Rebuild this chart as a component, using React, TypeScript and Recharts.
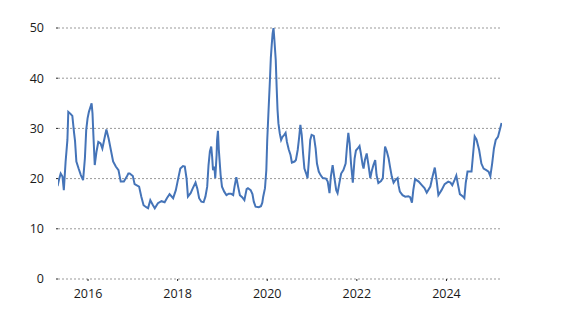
import { LineChart, Line, XAxis, YAxis, CartesianGrid } from 'recharts'

// decimal year of each reading
const DATES = [
  2015.32, 2015.35, 2015.39, 2015.43, 2015.46, 2015.50, 2015.54, 2015.56, 2015.61, 2015.65,
  2015.69, 2015.71, 2015.74, 2015.79, 2015.84, 2015.89, 2015.93, 2015.96, 2015.99, 2016.02,
  2016.08, 2016.10, 2016.12, 2016.15, 2016.19, 2016.23, 2016.28, 2016.32, 2016.36, 2016.41,
  2016.46, 2016.51, 2016.56, 2016.62, 2016.68, 2016.73, 2016.80, 2016.86, 2016.90, 2016.93,
  2017.00, 2017.04, 2017.14, 2017.19, 2017.24, 2017.30, 2017.34, 2017.39, 2017.45, 2017.49,
  2017.56, 2017.64, 2017.71, 2017.76, 2017.82, 2017.90, 2017.96, 2018.01, 2018.06, 2018.12,
  2018.16, 2018.20, 2018.23, 2018.29, 2018.34, 2018.40, 2018.44, 2018.48, 2018.53, 2018.58,
  2018.62, 2018.66, 2018.69, 2018.72, 2018.75, 2018.77, 2018.79, 2018.82, 2018.84, 2018.87,
  2018.88, 2018.90, 2018.92, 2018.96, 2018.99, 2019.04, 2019.09, 2019.14, 2019.19, 2019.24,
  2019.27, 2019.31, 2019.35, 2019.39, 2019.44, 2019.49, 2019.54, 2019.57, 2019.63, 2019.67,
  2019.70, 2019.74, 2019.81, 2019.86, 2019.89, 2019.91, 2019.95, 2019.98, 2020.00, 2020.03,
  2020.06, 2020.08, 2020.10, 2020.12, 2020.14, 2020.16, 2020.19, 2020.21, 2020.23, 2020.25,
  2020.28, 2020.31, 2020.34, 2020.38, 2020.41, 2020.44, 2020.48, 2020.52, 2020.55, 2020.61,
  2020.64, 2020.68, 2020.71, 2020.74, 2020.77, 2020.80, 2020.83, 2020.87, 2020.90, 2020.93,
  2020.96, 2020.99, 2021.04, 2021.08, 2021.11, 2021.15, 2021.19, 2021.24, 2021.31, 2021.35,
  2021.39, 2021.42, 2021.46, 2021.50, 2021.54, 2021.57, 2021.61, 2021.65, 2021.70, 2021.75,
  2021.78, 2021.81, 2021.84, 2021.87, 2021.91, 2021.95, 2021.98, 2022.02, 2022.06, 2022.09,
  2022.13, 2022.15, 2022.18, 2022.22, 2022.26, 2022.30, 2022.33, 2022.37, 2022.41, 2022.44,
  2022.48, 2022.54, 2022.58, 2022.61, 2022.63, 2022.67, 2022.71, 2022.74, 2022.78, 2022.82,
  2022.85, 2022.91, 2022.93, 2022.96, 2023.02, 2023.08, 2023.15, 2023.19, 2023.23, 2023.26,
  2023.30, 2023.38, 2023.45, 2023.51, 2023.56, 2023.64, 2023.69, 2023.74, 2023.78, 2023.82,
  2023.89, 2023.96, 2024.04, 2024.09, 2024.13, 2024.18, 2024.22, 2024.26, 2024.30, 2024.36,
  2024.40, 2024.43, 2024.47, 2024.56, 2024.59, 2024.63, 2024.67, 2024.73, 2024.78, 2024.83,
  2024.89, 2024.94, 2024.98, 2025.02, 2025.06, 2025.10, 2025.15, 2025.19, 2025.23,
]

const VALUES = [
  18.5, 19.7, 21.0, 20.4, 17.7, 23.4, 27.7, 33.3, 32.9, 32.5,
  29.0, 27.5, 23.4, 22.0, 20.7, 19.7, 24.0, 29.7, 32.0, 33.3,
  35.0, 33.0, 28.7, 22.7, 25.4, 27.3, 27.0, 26.0, 27.7, 29.8,
  28.0, 25.7, 23.4, 22.4, 21.7, 19.4, 19.4, 20.3, 21.0, 21.0,
  20.5, 18.9, 18.4, 16.4, 14.7, 14.3, 14.1, 15.7, 14.7, 14.1,
  15.1, 15.5, 15.3, 16.1, 16.9, 16.1, 17.7, 19.9, 22.0, 22.5,
  22.4, 20.0, 16.4, 17.1, 18.1, 19.2, 18.0, 16.1, 15.4, 15.3,
  16.4, 18.4, 22.7, 25.4, 26.4, 24.4, 21.7, 22.4, 20.1, 24.7,
  27.7, 29.5, 25.7, 20.7, 18.4, 17.4, 16.7, 17.0, 17.0, 16.7,
  18.4, 20.3, 18.4, 16.7, 16.3, 15.7, 17.9, 18.1, 17.7, 16.9,
  15.4, 14.4, 14.3, 14.5, 15.2, 16.4, 18.1, 21.7, 27.7, 33.7,
  39.6, 44.0, 46.6, 48.9, 50.0, 47.6, 43.6, 38.3, 33.7, 31.0,
  29.0, 27.7, 28.3, 28.7, 29.1, 27.3, 25.8, 24.7, 23.2, 23.4,
  23.7, 25.7, 28.0, 30.7, 28.7, 25.0, 22.0, 21.0, 20.1, 23.7,
  27.7, 28.7, 28.5, 26.0, 23.0, 21.4, 20.7, 20.1, 20.0, 19.4,
  17.1, 20.4, 22.7, 20.1, 17.7, 17.1, 19.1, 21.0, 21.7, 23.0,
  26.4, 29.1, 27.0, 23.0, 19.2, 24.0, 25.6, 26.0, 26.5, 25.0,
  22.7, 22.0, 23.7, 25.0, 22.7, 20.1, 21.4, 22.7, 23.7, 20.7,
  19.1, 19.5, 20.1, 24.0, 26.4, 25.4, 24.0, 22.4, 20.4, 19.2,
  19.6, 20.1, 18.7, 17.4, 16.7, 16.4, 16.5, 16.3, 15.2, 17.7,
  19.9, 19.4, 18.7, 18.1, 17.2, 18.4, 20.4, 22.2, 19.7, 16.7,
  17.7, 18.9, 19.4, 19.2, 18.7, 19.7, 20.6, 18.7, 16.9, 16.5,
  16.1, 19.1, 21.4, 21.4, 24.4, 28.4, 27.8, 25.7, 23.0, 22.0,
  21.7, 21.4, 20.5, 23.0, 26.0, 27.7, 28.3, 29.7, 31.1,
]

const X_TICKS = [2016, 2018, 2020, 2022, 2024]
const Y_TICKS = [0, 10, 20, 30, 40, 50]

const data = DATES.map((t, i) => ({ t, v: VALUES[i] }))

const LINE = '#4574b8'
const TICK = { fill: '#1a1a1a', fontSize: 12.5, fontFamily: '"Open Sans", sans-serif' }
const X_DOMAIN = [2015.33, 2025.24]

export default function App() {
  return (
    <LineChart width={580} height={312} data={data}
      margin={{ top: 20, right: 82, left: 0, bottom: 2 }}>
      <CartesianGrid vertical={false} strokeDasharray="2 2" stroke="#999" />
      <XAxis dataKey="t" type="number" domain={X_DOMAIN} ticks={X_TICKS}
        allowDataOverflow axisLine={false} tickLine={{ stroke: '#222' }} tickSize={2}
        tickMargin={8} height={39} tick={TICK} />
      <XAxis xAxisId="top" orientation="top" dataKey="t" type="number" domain={X_DOMAIN}
        ticks={X_TICKS} allowDataOverflow axisLine={false} tickLine={{ stroke: '#222' }}
        tickSize={2} mirror height={0} tickFormatter={() => ''} />
      <YAxis domain={[0, 50]} ticks={Y_TICKS} allowDataOverflow width={50}
        axisLine={false} tickLine={{ stroke: '#222' }} tickSize={2} tickMargin={12} tick={TICK} />
      <YAxis yAxisId="r" orientation="right" domain={[0, 50]} ticks={Y_TICKS} width={4}
        axisLine={false} tickLine={{ stroke: '#222' }} tickSize={2} tickFormatter={() => ''} />
      <Line dataKey="v" type="linear" stroke={LINE} strokeWidth={2} dot={false}
        isAnimationActive={false} />
    </LineChart>
  )
}
